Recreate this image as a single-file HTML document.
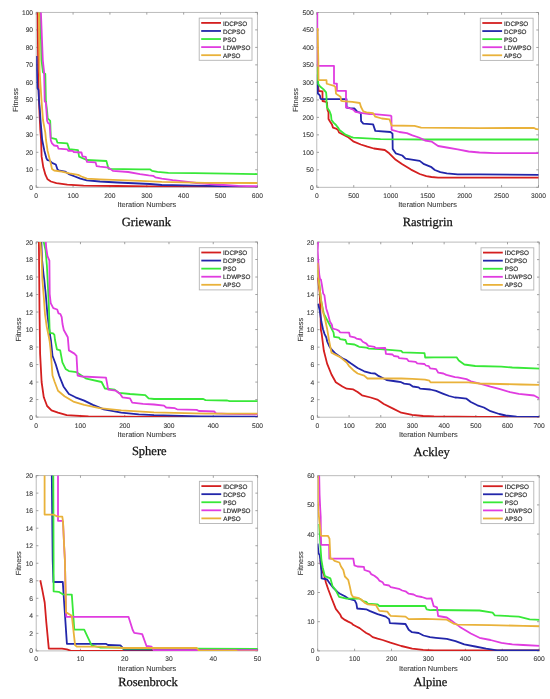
<!DOCTYPE html>
<html><head><meta charset="utf-8"><title>Convergence curves</title>
<style>
html,body{margin:0;padding:0;background:#fff;}
body{width:550px;height:699px;overflow:hidden;}
svg{display:block;will-change:transform;filter:blur(0.3px);}
text{font-family:"Liberation Sans",sans-serif;fill:#3a3a3a;text-rendering:geometricPrecision;}
.tl text{font-size:6.7px;stroke:#3a3a3a;stroke-width:0.1px;}
.al{font-size:7.4px;stroke:#3a3a3a;stroke-width:0.08px;}
.lg{font-size:6.3px;fill:#2a2a2a;stroke:#2a2a2a;stroke-width:0.16px;}
.ti{font-family:"Liberation Serif",serif;font-size:12.5px;fill:#111;stroke:#111;stroke-width:0.25px;}
</style></head>
<body>
<svg width="550" height="699" viewBox="0 0 550 699">
<rect width="550" height="699" fill="#fff"/>
<clipPath id="c0"><rect x="36.2" y="12.4" width="221.2" height="174.9"/></clipPath>
<rect x="36.2" y="12.4" width="221.2" height="174.9" fill="none" stroke="#b4b4b4" stroke-width="0.9"/>
<path d="M36.2 187.3v-2.2M36.2 12.4v2.2M73.07 187.3v-2.2M73.07 12.4v2.2M109.93 187.3v-2.2M109.93 12.4v2.2M146.8 187.3v-2.2M146.8 12.4v2.2M183.67 187.3v-2.2M183.67 12.4v2.2M220.53 187.3v-2.2M220.53 12.4v2.2M257.4 187.3v-2.2M257.4 12.4v2.2M36.2 187.3h2.2M257.4 187.3h-2.2M36.2 169.81h2.2M257.4 169.81h-2.2M36.2 152.32h2.2M257.4 152.32h-2.2M36.2 134.83h2.2M257.4 134.83h-2.2M36.2 117.34h2.2M257.4 117.34h-2.2M36.2 99.85h2.2M257.4 99.85h-2.2M36.2 82.36h2.2M257.4 82.36h-2.2M36.2 64.87h2.2M257.4 64.87h-2.2M36.2 47.38h2.2M257.4 47.38h-2.2M36.2 29.89h2.2M257.4 29.89h-2.2M36.2 12.4h2.2M257.4 12.4h-2.2" stroke="#8a8a8a" stroke-width="0.8" fill="none"/>
<g clip-path="url(#c0)" fill="none" stroke-width="1.8" stroke-linejoin="round" stroke-linecap="butt">
<polyline stroke="#d41f1f" points="37.2,0 37.6,12.4 38.2,70 38.9,100 40.3,130 41.1,140 41.6,156.4 43.3,167.3 45.5,174.9 47.6,179.3 50.9,181.5 56.4,183.1 67.3,184.7 83.6,185.6 100,185.8 117,186 150,186.4 200,186.7 259.4,186.8"/>
<polyline stroke="#2226aa" points="36.5,56 37.4,88 38.5,90 39,100 40,112 40.5,120 42.2,140 44.4,150.9 46.5,158.5 47.6,160.2 49.8,160.7 52,162.9 55.8,164.5 57.5,169.5 58.5,170.5 65.1,171.6 69.5,174.4 74.9,176.5 80.4,178.7 86.9,180.4 100,181.5 117.3,182.5 150,184 161.8,185 194.5,185.6 227.3,186.3 259.4,187"/>
<polyline stroke="#38e838" points="39.6,0 39.8,12.4 41,40 41.5,60 42.9,72.2 45.3,74 45.9,101.4 47.1,111.1 47.7,118.4 50.2,120.8 50.8,137.9 56.2,139.1 57.5,142.7 67.3,143.4 69.3,149.1 78,150.2 79.1,156.7 86.7,160 106.4,161 108.5,168.8 140,169.3 149.8,169.3 152,170.8 157.5,171.9 168.4,172.8 194.5,173.2 227.3,173.6 259.4,174.1"/>
<polyline stroke="#e03ce0" points="40.7,0 40.9,12.4 42,40 42.8,60 44.1,72.2 44.7,101.4 45.9,102.6 47.1,120.8 48.3,123.3 49.6,123.9 50.8,140.3 52,143.3 54.2,145.5 57.5,146 58.5,148.7 67.3,149.3 68.4,150.9 72.7,150.9 73.8,152 81.5,152.5 82.5,156.4 85.8,156.9 86.9,161.8 95.6,162.4 96.7,166.2 100,166.7 108.5,167.6 112.9,170.9 128.2,172 140,174.1 148.7,175.4 153.1,175.8 155.3,177.3 161.8,178.7 172.7,180.2 185.8,181.7 196.7,183 216.4,184.5 238.2,185.9 259.4,186.3"/>
<polyline stroke="#e9b23a" points="38.7,0 38.9,12.4 39.6,70 40.5,85 41.5,100 43,120 45.3,132.7 46,140 47.6,150.9 49.8,159.6 50.9,164 52,168.9 54.2,170.5 61.8,171.6 69.5,173.3 78.2,174.9 81.5,176.5 86.9,178.7 100,179.3 106.4,179.6 140,180.8 161.8,181.9 183.6,182.4 205.5,182.8 259.4,183"/>
</g>
<g class="tl"><text x="36.2" y="197.7" text-anchor="middle">0</text><text x="73.07" y="197.7" text-anchor="middle">100</text><text x="109.93" y="197.7" text-anchor="middle">200</text><text x="146.8" y="197.7" text-anchor="middle">300</text><text x="183.67" y="197.7" text-anchor="middle">400</text><text x="220.53" y="197.7" text-anchor="middle">500</text><text x="257.4" y="197.7" text-anchor="middle">600</text><text x="33.1" y="189.8" text-anchor="end">0</text><text x="33.1" y="172.31" text-anchor="end">10</text><text x="33.1" y="154.82" text-anchor="end">20</text><text x="33.1" y="137.33" text-anchor="end">30</text><text x="33.1" y="119.84" text-anchor="end">40</text><text x="33.1" y="102.35" text-anchor="end">50</text><text x="33.1" y="84.86" text-anchor="end">60</text><text x="33.1" y="67.37" text-anchor="end">70</text><text x="33.1" y="49.88" text-anchor="end">80</text><text x="33.1" y="32.39" text-anchor="end">90</text><text x="33.1" y="14.9" text-anchor="end">100</text></g>
<text class="al" x="146.8" y="207.4" text-anchor="middle">Iteration Numbers</text>
<text class="al" transform="translate(17.75,99.85) rotate(-90)" text-anchor="middle">Fitness</text>
<text class="ti" x="146.4" y="225.7" text-anchor="middle">Griewank</text>
<rect x="199.2" y="18.1" width="52.8" height="42.2" fill="#fff" stroke="#b4b4b4" stroke-width="0.9"/>
<path d="M201.2 22.9h19.8" stroke="#d41f1f" stroke-width="1.8"/>
<text class="lg" x="223" y="25.5">IDCPSO</text>
<path d="M201.2 30.97h19.8" stroke="#2226aa" stroke-width="1.8"/>
<text class="lg" x="223" y="33.57">DCPSO</text>
<path d="M201.2 39.04h19.8" stroke="#38e838" stroke-width="1.8"/>
<text class="lg" x="223" y="41.64">PSO</text>
<path d="M201.2 47.11h19.8" stroke="#e03ce0" stroke-width="1.8"/>
<text class="lg" x="223" y="49.71">LDWPSO</text>
<path d="M201.2 55.18h19.8" stroke="#e9b23a" stroke-width="1.8"/>
<text class="lg" x="223" y="57.78">APSO</text>
<clipPath id="c1"><rect x="316.8" y="12.5" width="221.7" height="174.8"/></clipPath>
<rect x="316.8" y="12.5" width="221.7" height="174.8" fill="none" stroke="#b4b4b4" stroke-width="0.9"/>
<path d="M316.8 187.3v-2.2M316.8 12.5v2.2M353.75 187.3v-2.2M353.75 12.5v2.2M390.7 187.3v-2.2M390.7 12.5v2.2M427.65 187.3v-2.2M427.65 12.5v2.2M464.6 187.3v-2.2M464.6 12.5v2.2M501.55 187.3v-2.2M501.55 12.5v2.2M538.5 187.3v-2.2M538.5 12.5v2.2M316.8 187.3h2.2M538.5 187.3h-2.2M316.8 169.82h2.2M538.5 169.82h-2.2M316.8 152.34h2.2M538.5 152.34h-2.2M316.8 134.86h2.2M538.5 134.86h-2.2M316.8 117.38h2.2M538.5 117.38h-2.2M316.8 99.9h2.2M538.5 99.9h-2.2M316.8 82.42h2.2M538.5 82.42h-2.2M316.8 64.94h2.2M538.5 64.94h-2.2M316.8 47.46h2.2M538.5 47.46h-2.2M316.8 29.98h2.2M538.5 29.98h-2.2M316.8 12.5h2.2M538.5 12.5h-2.2" stroke="#8a8a8a" stroke-width="0.8" fill="none"/>
<g clip-path="url(#c1)" fill="none" stroke-width="1.8" stroke-linejoin="round" stroke-linecap="butt">
<polyline stroke="#d41f1f" points="317.8,70 318.3,88 318.8,91 322.5,91.3 322.5,101 325,101.5 327,102.5 327.5,110 328.5,112.5 328.5,119 330,121.5 332,124.6 333,127.6 336,128.6 338,130 339,132.5 347.7,136.9 353.2,141.3 360.8,144.5 367.4,146.7 373.9,148.5 384.8,150 389.2,153.3 395.7,159.8 402.3,164.2 411,169.6 419.7,174 426.3,176.2 431.5,177 438.1,177.6 540.5,177.6"/>
<polyline stroke="#2226aa" points="317.5,74.5 317.5,82.7 317.9,93.6 319.1,94.5 320.1,96.1 320.4,98.3 321.2,99.1 346.5,99.1 346.6,107.5 350,108.2 354.3,108.5 357.5,111.8 360.8,112.9 361.1,121.1 363.3,123.7 373.1,124.4 375.3,130.9 390.5,132 392.5,133.6 392.7,148.9 395.7,153.3 402.3,155.5 405.5,158.7 419.7,160.9 424.1,164.2 431.5,167.2 434.8,170 440.3,172.2 446.8,173.3 457.7,174.4 479.5,174.4 540.5,174.8"/>
<polyline stroke="#38e838" points="317.6,64 317.9,76 318.2,84 320.1,86.5 323.3,89.1 326.1,92.3 326.5,96.7 326.5,101.5 327,107.5 329.5,111 331,115 331.5,120 333.5,122.6 336,125 338,127.6 339.5,130 345.5,134.7 351,136.9 353.2,137.6 380.5,139.1 425,139.5 540.5,139.5"/>
<polyline stroke="#e03ce0" points="317.3,0 317.3,65.9 334,65.9 334,83.6 336.9,83.6 336.9,90.8 346,90.8 346,107.5 347.7,107.5 350,108.5 353.2,109.6 355.4,111.8 360.8,112.9 369.5,114 374.2,114.1 390.5,115.6 391.4,116.2 391.6,129.8 399.3,132 406.9,133.1 412.4,135.3 418.9,137.5 423.3,139.6 425,140.5 431.5,141.6 434.8,143.8 438.1,146 446.8,147.5 457.7,149.3 468.6,151.5 479.5,152.5 494.8,153.2 540.5,153.2"/>
<polyline stroke="#e9b23a" points="317.6,28 318.3,60 318.5,80.2 326.5,80.2 326.7,83.7 327.7,84 334.1,85.9 335.4,87.2 336,93.6 337.9,95.1 340.5,96.7 341.1,100.6 342.4,101.2 352.2,101.9 359.8,103 361,107 363.3,111.3 366.5,112.4 373.1,113.2 375.3,116.7 381.8,118.5 389.5,119.3 391.6,125.5 414.5,125.9 421.1,127.6 480,128.1 534.1,127.9 536.3,129.2 540.5,129.6"/>
</g>
<g class="tl"><text x="316.8" y="197.7" text-anchor="middle">0</text><text x="353.75" y="197.7" text-anchor="middle">500</text><text x="390.7" y="197.7" text-anchor="middle">1000</text><text x="427.65" y="197.7" text-anchor="middle">1500</text><text x="464.6" y="197.7" text-anchor="middle">2000</text><text x="501.55" y="197.7" text-anchor="middle">2500</text><text x="538.5" y="197.7" text-anchor="middle">3000</text><text x="313.7" y="189.8" text-anchor="end">0</text><text x="313.7" y="172.32" text-anchor="end">50</text><text x="313.7" y="154.84" text-anchor="end">100</text><text x="313.7" y="137.36" text-anchor="end">150</text><text x="313.7" y="119.88" text-anchor="end">200</text><text x="313.7" y="102.4" text-anchor="end">250</text><text x="313.7" y="84.92" text-anchor="end">300</text><text x="313.7" y="67.44" text-anchor="end">350</text><text x="313.7" y="49.96" text-anchor="end">400</text><text x="313.7" y="32.48" text-anchor="end">450</text><text x="313.7" y="15" text-anchor="end">500</text></g>
<text class="al" x="427.65" y="207.4" text-anchor="middle">Iteration Numbers</text>
<text class="al" transform="translate(298.35,99.9) rotate(-90)" text-anchor="middle">Fitness</text>
<text class="ti" x="427.7" y="226.3" text-anchor="middle">Rastrigrin</text>
<rect x="480.3" y="18.2" width="52.8" height="42.2" fill="#fff" stroke="#b4b4b4" stroke-width="0.9"/>
<path d="M482.3 23h19.8" stroke="#d41f1f" stroke-width="1.8"/>
<text class="lg" x="504.1" y="25.6">IDCPSO</text>
<path d="M482.3 31.07h19.8" stroke="#2226aa" stroke-width="1.8"/>
<text class="lg" x="504.1" y="33.67">DCPSO</text>
<path d="M482.3 39.14h19.8" stroke="#38e838" stroke-width="1.8"/>
<text class="lg" x="504.1" y="41.74">PSO</text>
<path d="M482.3 47.21h19.8" stroke="#e03ce0" stroke-width="1.8"/>
<text class="lg" x="504.1" y="49.81">LDWPSO</text>
<path d="M482.3 55.28h19.8" stroke="#e9b23a" stroke-width="1.8"/>
<text class="lg" x="504.1" y="57.88">APSO</text>
<clipPath id="c2"><rect x="36.2" y="242" width="221.3" height="175.1"/></clipPath>
<rect x="36.2" y="242" width="221.3" height="175.1" fill="none" stroke="#b4b4b4" stroke-width="0.9"/>
<path d="M36.2 417.1v-2.2M36.2 242v2.2M80.46 417.1v-2.2M80.46 242v2.2M124.72 417.1v-2.2M124.72 242v2.2M168.98 417.1v-2.2M168.98 242v2.2M213.24 417.1v-2.2M213.24 242v2.2M257.5 417.1v-2.2M257.5 242v2.2M36.2 417.1h2.2M257.5 417.1h-2.2M36.2 399.59h2.2M257.5 399.59h-2.2M36.2 382.08h2.2M257.5 382.08h-2.2M36.2 364.57h2.2M257.5 364.57h-2.2M36.2 347.06h2.2M257.5 347.06h-2.2M36.2 329.55h2.2M257.5 329.55h-2.2M36.2 312.04h2.2M257.5 312.04h-2.2M36.2 294.53h2.2M257.5 294.53h-2.2M36.2 277.02h2.2M257.5 277.02h-2.2M36.2 259.51h2.2M257.5 259.51h-2.2M36.2 242h2.2M257.5 242h-2.2" stroke="#8a8a8a" stroke-width="0.8" fill="none"/>
<g clip-path="url(#c2)" fill="none" stroke-width="1.8" stroke-linejoin="round" stroke-linecap="butt">
<polyline stroke="#d41f1f" points="38.9,230 38.9,241.9 39.5,310 40.1,353.6 41.6,382 43.8,397.3 47.1,406 51.5,410.4 58,412.6 66.7,415.2 88.5,416.5 154,416.9 259.5,416.9"/>
<polyline stroke="#2226aa" points="41.3,230 41.3,241.9 42,259.3 43.5,274 44.3,280 45.9,296 47.4,314.3 48.7,325 50,335 51,341 52.5,355.8 55.8,364.5 59.1,375.5 63.5,386.4 68.9,394 75.5,397.3 84.2,400.6 92.9,404.9 103.8,409.3 121.3,412.6 138.7,414.3 154,415.2 200,416.3 259.5,416.8"/>
<polyline stroke="#38e838" points="43.7,230 43.7,241.9 45.6,250.3 46.9,265.7 48.2,291.5 48.8,304.4 49.3,320 49.7,332.8 53.1,333.4 54.4,334.8 55,340 56.9,349.3 60.2,350.4 62.4,362.4 65.6,368.9 68.9,371.1 76.5,372.2 86.4,378.7 101.6,382 104.9,388.5 114.7,389.6 119.1,392.9 130,394 145.3,395.1 148.6,398.4 154,399 203.3,399 205.5,400.1 227.3,400.5 229.5,401.2 259.5,401.2"/>
<polyline stroke="#e03ce0" points="45.8,230 45.8,241.9 46.2,247.7 47.5,256.1 49.4,260.6 49.7,294 50.7,303.1 53.3,308.2 57.2,309.5 58.5,313.4 60.4,314 61.7,317.2 62.5,324 63.8,330 67.8,337.3 68.9,350.4 74.4,353.6 76.5,355.8 77.6,375.5 82,376.5 106,377.6 108.2,389.6 115.8,390.7 120.2,394 122.4,397.3 130,398.4 132.2,402.7 143.1,403.8 154,404.5 164,405.6 166.2,407.5 174.9,408.2 177.1,409.3 196.7,409.9 198.9,411 214.2,411.5 216,413.3 227.3,413.8 259.5,414.5"/>
<polyline stroke="#e9b23a" points="40.4,230 40.4,241.9 41.7,259.3 42.4,280 43.8,297 45,314.3 46.8,327.1 48.6,335.7 49.6,341 50.6,350 52.5,375.5 54.7,382 58,390.7 64.5,396.2 73.3,401.6 84.2,404.9 99.5,408.2 121.3,410.4 154,412.3 205.5,413.6 259.5,413.6"/>
</g>
<g class="tl"><text x="36.2" y="427.5" text-anchor="middle">0</text><text x="80.46" y="427.5" text-anchor="middle">100</text><text x="124.72" y="427.5" text-anchor="middle">200</text><text x="168.98" y="427.5" text-anchor="middle">300</text><text x="213.24" y="427.5" text-anchor="middle">400</text><text x="257.5" y="427.5" text-anchor="middle">500</text><text x="33.1" y="419.6" text-anchor="end">0</text><text x="33.1" y="402.09" text-anchor="end">2</text><text x="33.1" y="384.58" text-anchor="end">4</text><text x="33.1" y="367.07" text-anchor="end">6</text><text x="33.1" y="349.56" text-anchor="end">8</text><text x="33.1" y="332.05" text-anchor="end">10</text><text x="33.1" y="314.54" text-anchor="end">12</text><text x="33.1" y="297.03" text-anchor="end">14</text><text x="33.1" y="279.52" text-anchor="end">16</text><text x="33.1" y="262.01" text-anchor="end">18</text><text x="33.1" y="244.5" text-anchor="end">20</text></g>
<text class="al" x="146.85" y="437.2" text-anchor="middle">Iteration Numbers</text>
<text class="al" transform="translate(21.4,329.55) rotate(-90)" text-anchor="middle">Fitness</text>
<text class="ti" x="149.25" y="455.3" text-anchor="middle">Sphere</text>
<rect x="199.3" y="247.7" width="52.8" height="42.2" fill="#fff" stroke="#b4b4b4" stroke-width="0.9"/>
<path d="M201.3 252.5h19.8" stroke="#d41f1f" stroke-width="1.8"/>
<text class="lg" x="223.1" y="255.1">IDCPSO</text>
<path d="M201.3 260.57h19.8" stroke="#2226aa" stroke-width="1.8"/>
<text class="lg" x="223.1" y="263.17">DCPSO</text>
<path d="M201.3 268.64h19.8" stroke="#38e838" stroke-width="1.8"/>
<text class="lg" x="223.1" y="271.24">PSO</text>
<path d="M201.3 276.71h19.8" stroke="#e03ce0" stroke-width="1.8"/>
<text class="lg" x="223.1" y="279.31">LDWPSO</text>
<path d="M201.3 284.78h19.8" stroke="#e9b23a" stroke-width="1.8"/>
<text class="lg" x="223.1" y="287.38">APSO</text>
<clipPath id="c3"><rect x="317.4" y="242.1" width="221.8" height="175.1"/></clipPath>
<rect x="317.4" y="242.1" width="221.8" height="175.1" fill="none" stroke="#b4b4b4" stroke-width="0.9"/>
<path d="M317.4 417.2v-2.2M317.4 242.1v2.2M349.09 417.2v-2.2M349.09 242.1v2.2M380.77 417.2v-2.2M380.77 242.1v2.2M412.46 417.2v-2.2M412.46 242.1v2.2M444.14 417.2v-2.2M444.14 242.1v2.2M475.83 417.2v-2.2M475.83 242.1v2.2M507.51 417.2v-2.2M507.51 242.1v2.2M539.2 417.2v-2.2M539.2 242.1v2.2M317.4 417.2h2.2M539.2 417.2h-2.2M317.4 399.69h2.2M539.2 399.69h-2.2M317.4 382.18h2.2M539.2 382.18h-2.2M317.4 364.67h2.2M539.2 364.67h-2.2M317.4 347.16h2.2M539.2 347.16h-2.2M317.4 329.65h2.2M539.2 329.65h-2.2M317.4 312.14h2.2M539.2 312.14h-2.2M317.4 294.63h2.2M539.2 294.63h-2.2M317.4 277.12h2.2M539.2 277.12h-2.2M317.4 259.61h2.2M539.2 259.61h-2.2M317.4 242.1h2.2M539.2 242.1h-2.2" stroke="#8a8a8a" stroke-width="0.8" fill="none"/>
<g clip-path="url(#c3)" fill="none" stroke-width="1.8" stroke-linejoin="round" stroke-linecap="butt">
<polyline stroke="#d41f1f" points="317.6,277.6 319.7,292.4 320.5,313.6 320.9,330 321.6,333.1 323.8,350.5 327.1,363.6 331.5,374.5 335.8,382.2 342.4,386.5 346.7,388.7 353.3,389.4 357.6,392 362,395.3 370.7,397.5 377.3,399.6 383.8,404 392.6,408.4 401.3,412.7 412.2,414.9 423.1,416 434,416.4 480,416.8 541.2,417.1"/>
<polyline stroke="#2226aa" points="318.1,303.8 319.7,310.4 321.4,321.8 323,329.2 324.6,334.1 326.3,337.5 327.2,341.5 329.3,346.2 331.5,349.5 335.8,353.8 342.4,358.2 346.7,360.4 351.1,363.6 357.6,368 364.2,371.3 370.7,373.2 375,373.5 377.9,375.6 383.7,378.5 386.6,380 396.8,381.5 401.2,382.2 404.1,383.6 409.9,384.4 412.8,386.5 418.6,387.3 420.1,388.7 430.3,389.5 436.1,390.9 443.4,393.8 449.2,396 455,397.5 457.7,397.6 466.5,398.7 470.8,402 477.4,405.3 483.9,407.5 490.5,411.2 499.2,414 505.7,415.5 516.6,416.6 541.2,416.8"/>
<polyline stroke="#38e838" points="318.2,270 318.9,279.3 321,300 323.8,313.6 326.3,318.5 327.1,320 330,325.5 331.8,329.1 333.6,332.7 334.1,336.8 339.1,337.7 340,339.1 345.5,340 346.8,343.6 354.5,344.5 357.3,345.9 359.1,346.8 366.4,347.7 369.1,348.6 380,349.1 401.2,350.9 402.6,352.4 424.5,353.1 425.2,357.5 434,357.4 456.6,357.3 458.8,360.5 464.3,364.5 475.2,366 501.4,366.7 512.3,367.5 541.2,368.6"/>
<polyline stroke="#e03ce0" points="318.1,242 317.7,250.6 318.4,263.5 319.3,274.6 320,279 321,279.8 321.9,284.9 323.2,293.5 324.4,295.2 325.3,302 326.3,308.7 327.9,313.6 330,321.8 331.8,324.5 332.7,328.6 336.4,329.5 339.1,330.9 340,332.3 349.1,332.7 350,336.4 354.5,337.3 356.4,338.6 360.9,339.5 362.7,341.8 366.4,343.6 368.2,345.9 374.5,346.8 375.5,348.2 385.2,348 385.9,353.8 392.5,354.5 393.9,356 398.3,356.7 399,358.2 407,358.9 408.5,361.1 415.7,361.8 417.2,363.3 424.5,364 425.9,365.5 428.8,366.2 430.3,368.4 436.1,369.1 438.3,372.7 443.4,373.5 446.3,374.9 455,377.1 457.7,377.3 466.5,379.1 470.8,381.3 481.7,384.1 490.5,386.7 499.2,388.9 510.1,392.2 518.8,393.9 534.1,395.5 541.2,399.4"/>
<polyline stroke="#e9b23a" points="317.6,262.9 318.1,276 319.7,289.1 321.4,302.2 323,312 324.9,318.5 327.1,328.7 329.3,341.8 331.5,352.7 335.8,354.9 340.2,357.1 346.7,362.5 348.9,365.8 353.3,370.2 357.6,373.5 364.2,375.6 367.5,378.5 379.5,378.5 401.3,378.5 412.2,378.9 425,379.7 429.4,380.6 430.5,382.4 468.6,382.4 479.5,383.5 521,384.5 541.2,385"/>
</g>
<g class="tl"><text x="317.4" y="427.6" text-anchor="middle">0</text><text x="349.09" y="427.6" text-anchor="middle">100</text><text x="380.77" y="427.6" text-anchor="middle">200</text><text x="412.46" y="427.6" text-anchor="middle">300</text><text x="444.14" y="427.6" text-anchor="middle">400</text><text x="475.83" y="427.6" text-anchor="middle">500</text><text x="507.51" y="427.6" text-anchor="middle">600</text><text x="539.2" y="427.6" text-anchor="middle">700</text><text x="314.3" y="419.7" text-anchor="end">0</text><text x="314.3" y="402.19" text-anchor="end">2</text><text x="314.3" y="384.68" text-anchor="end">4</text><text x="314.3" y="367.17" text-anchor="end">6</text><text x="314.3" y="349.66" text-anchor="end">8</text><text x="314.3" y="332.15" text-anchor="end">10</text><text x="314.3" y="314.64" text-anchor="end">12</text><text x="314.3" y="297.13" text-anchor="end">14</text><text x="314.3" y="279.62" text-anchor="end">16</text><text x="314.3" y="262.11" text-anchor="end">18</text><text x="314.3" y="244.6" text-anchor="end">20</text></g>
<text class="al" x="428.3" y="437.3" text-anchor="middle">Iteration Numbers</text>
<text class="al" transform="translate(302.6,329.65) rotate(-90)" text-anchor="middle">Fitness</text>
<text class="ti" x="431.65" y="455.7" text-anchor="middle">Ackley</text>
<rect x="481" y="247.8" width="52.8" height="42.2" fill="#fff" stroke="#b4b4b4" stroke-width="0.9"/>
<path d="M483 252.6h19.8" stroke="#d41f1f" stroke-width="1.8"/>
<text class="lg" x="504.8" y="255.2">IDCPSO</text>
<path d="M483 260.67h19.8" stroke="#2226aa" stroke-width="1.8"/>
<text class="lg" x="504.8" y="263.27">DCPSO</text>
<path d="M483 268.74h19.8" stroke="#38e838" stroke-width="1.8"/>
<text class="lg" x="504.8" y="271.34">PSO</text>
<path d="M483 276.81h19.8" stroke="#e03ce0" stroke-width="1.8"/>
<text class="lg" x="504.8" y="279.41">LDWPSO</text>
<path d="M483 284.88h19.8" stroke="#e9b23a" stroke-width="1.8"/>
<text class="lg" x="504.8" y="287.48">APSO</text>
<clipPath id="c4"><rect x="36.2" y="475.6" width="221.4" height="175.3"/></clipPath>
<rect x="36.2" y="475.6" width="221.4" height="175.3" fill="none" stroke="#b4b4b4" stroke-width="0.9"/>
<path d="M36.2 650.9v-2.2M36.2 475.6v2.2M80.48 650.9v-2.2M80.48 475.6v2.2M124.76 650.9v-2.2M124.76 475.6v2.2M169.04 650.9v-2.2M169.04 475.6v2.2M213.32 650.9v-2.2M213.32 475.6v2.2M257.6 650.9v-2.2M257.6 475.6v2.2M36.2 650.9h2.2M257.6 650.9h-2.2M36.2 633.37h2.2M257.6 633.37h-2.2M36.2 615.84h2.2M257.6 615.84h-2.2M36.2 598.31h2.2M257.6 598.31h-2.2M36.2 580.78h2.2M257.6 580.78h-2.2M36.2 563.25h2.2M257.6 563.25h-2.2M36.2 545.72h2.2M257.6 545.72h-2.2M36.2 528.19h2.2M257.6 528.19h-2.2M36.2 510.66h2.2M257.6 510.66h-2.2M36.2 493.13h2.2M257.6 493.13h-2.2M36.2 475.6h2.2M257.6 475.6h-2.2" stroke="#8a8a8a" stroke-width="0.8" fill="none"/>
<g clip-path="url(#c4)" fill="none" stroke-width="1.8" stroke-linejoin="round" stroke-linecap="butt">
<polyline stroke="#d41f1f" points="40.3,580.3 42.2,589.4 44.7,602.5 46.3,622.3 48.8,648.6 62,648.6 66.9,649.4 71.8,651 259.6,651"/>
<polyline stroke="#2226aa" points="51.8,470 51.8,475.8 52.7,560 53.4,582 62.8,582 63.6,594.3 66.9,643.8 105.8,643.8 108,645 120.4,645.3 122.5,647.7 124,649.6 153.8,649.6 259.6,649.6"/>
<polyline stroke="#38e838" points="53.3,470 53.3,475.8 53.6,560 53.6,591.3 58.7,591.8 62.8,594.3 71.8,594.6 74.3,629.7 84.2,629.7 91.6,645.3 100,647.5 121,647.7 123.3,648.6 194.5,648.6 259.6,648.8"/>
<polyline stroke="#e03ce0" points="58,470 58,475.8 58,520.8 61.7,520.8 63,521.5 64.2,547.2 64.9,560 66,612 66.3,616.8 128.5,616.8 132.7,630 134.2,632.9 142.2,634.1 146.5,646 151.6,646.7 153.8,650.2 259.6,650.2"/>
<polyline stroke="#e9b23a" points="44.6,470 44.6,514.5 53.3,514.7 57.2,516.3 62.3,516.6 63,521.5 64.2,547.2 64.9,560 66.1,612.4 71.8,615.7 75.1,645.3 76.8,646.6 100,646.7 123.3,648 196.6,647.9 199,650.6 236,650.6 238,651.5 259.6,651.5"/>
</g>
<g class="tl"><text x="36.2" y="661.3" text-anchor="middle">0</text><text x="80.48" y="661.3" text-anchor="middle">10</text><text x="124.76" y="661.3" text-anchor="middle">20</text><text x="169.04" y="661.3" text-anchor="middle">30</text><text x="213.32" y="661.3" text-anchor="middle">40</text><text x="257.6" y="661.3" text-anchor="middle">50</text><text x="33.1" y="653.4" text-anchor="end">0</text><text x="33.1" y="635.87" text-anchor="end">2</text><text x="33.1" y="618.34" text-anchor="end">4</text><text x="33.1" y="600.81" text-anchor="end">6</text><text x="33.1" y="583.28" text-anchor="end">8</text><text x="33.1" y="565.75" text-anchor="end">10</text><text x="33.1" y="548.22" text-anchor="end">12</text><text x="33.1" y="530.69" text-anchor="end">14</text><text x="33.1" y="513.16" text-anchor="end">16</text><text x="33.1" y="495.63" text-anchor="end">18</text><text x="33.1" y="478.1" text-anchor="end">20</text></g>
<text class="al" x="146.9" y="671" text-anchor="middle">Iteration Numbers</text>
<text class="al" transform="translate(21.4,563.25) rotate(-90)" text-anchor="middle">Fitness</text>
<text class="ti" x="148" y="686" text-anchor="middle">Rosenbrock</text>
<rect x="199.4" y="481.3" width="52.8" height="42.2" fill="#fff" stroke="#b4b4b4" stroke-width="0.9"/>
<path d="M201.4 486.1h19.8" stroke="#d41f1f" stroke-width="1.8"/>
<text class="lg" x="223.2" y="488.7">IDCPSO</text>
<path d="M201.4 494.17h19.8" stroke="#2226aa" stroke-width="1.8"/>
<text class="lg" x="223.2" y="496.77">DCPSO</text>
<path d="M201.4 502.24h19.8" stroke="#38e838" stroke-width="1.8"/>
<text class="lg" x="223.2" y="504.84">PSO</text>
<path d="M201.4 510.31h19.8" stroke="#e03ce0" stroke-width="1.8"/>
<text class="lg" x="223.2" y="512.91">LDWPSO</text>
<path d="M201.4 518.38h19.8" stroke="#e9b23a" stroke-width="1.8"/>
<text class="lg" x="223.2" y="520.98">APSO</text>
<clipPath id="c5"><rect x="317.7" y="475.7" width="221.5" height="175.2"/></clipPath>
<rect x="317.7" y="475.7" width="221.5" height="175.2" fill="none" stroke="#b4b4b4" stroke-width="0.9"/>
<path d="M317.7 650.9v-2.2M317.7 475.7v2.2M354.62 650.9v-2.2M354.62 475.7v2.2M391.53 650.9v-2.2M391.53 475.7v2.2M428.45 650.9v-2.2M428.45 475.7v2.2M465.37 650.9v-2.2M465.37 475.7v2.2M502.28 650.9v-2.2M502.28 475.7v2.2M539.2 650.9v-2.2M539.2 475.7v2.2M317.7 650.9h2.2M539.2 650.9h-2.2M317.7 621.7h2.2M539.2 621.7h-2.2M317.7 592.5h2.2M539.2 592.5h-2.2M317.7 563.3h2.2M539.2 563.3h-2.2M317.7 534.1h2.2M539.2 534.1h-2.2M317.7 504.9h2.2M539.2 504.9h-2.2M317.7 475.7h2.2M539.2 475.7h-2.2" stroke="#8a8a8a" stroke-width="0.8" fill="none"/>
<g clip-path="url(#c5)" fill="none" stroke-width="1.8" stroke-linejoin="round" stroke-linecap="butt">
<polyline stroke="#d41f1f" points="320.5,560 320.8,564.9 321.6,570 323.8,574 326,582.7 328.2,589.3 331.5,598 335.8,608.9 340,614.2 341.6,617.5 344.9,619.9 348.2,621.6 351.5,623.2 353.1,624.8 356.4,626.5 359.6,628.1 362.9,630.6 366.2,633 369.5,634.6 372.7,637.1 377.6,638.7 382.6,640 390.4,642.7 401.3,646 412.2,648.6 423.1,649.9 434,650.4 541.2,650.5"/>
<polyline stroke="#2226aa" points="317.6,543.6 318.6,553.5 319.7,555.1 320.5,561.6 321.4,570 321.6,578.4 327.1,579.5 329.3,582.7 333.6,588.2 338,592.5 340,593.7 344.9,596.2 348.2,598.6 354.7,600.3 356.4,603.6 357.2,608.5 366.2,609.3 369.5,610.9 377.6,614.2 385.8,616.6 389.1,619.1 389.9,623.2 405.5,624 408.7,629.7 412,632.2 418.6,633 423.5,635.5 430,637.1 435.9,637.8 446.8,638.9 455.5,641.1 464.3,644.4 475.2,646.5 486.1,648.7 497,650.3 541.2,650.5"/>
<polyline stroke="#38e838" points="319.2,524 319.9,535.5 320.5,546.9 321.4,560 322.7,567.5 324.9,576.2 330.4,578.4 332.5,586 335.8,590.4 339.1,596.9 346.5,598.6 359.6,598.6 362.9,601.1 366.2,601.9 367.8,603.6 377.6,604.4 379.3,606 425.1,606 426.7,609.3 430,610.1 434,610 479.5,610.5 492.6,612.7 494.8,615.3 518.8,616.7 529.7,619.3 541.2,620"/>
<polyline stroke="#e03ce0" points="319.2,475.8 319.6,495 320.2,508 320.7,517 320.9,535.5 321.2,544.8 329.1,544.8 329.3,558.7 353.3,558.7 354.4,565.3 357.4,566.5 363.9,566.9 364.5,570 369.5,571.6 371.1,574.1 374.4,575.7 377.6,578.2 379.3,580.6 382.6,582.3 384.2,584.7 389.1,585.5 390.7,587.2 398.9,588.8 402.2,590.5 405.5,591.3 408.7,593.7 413.6,594.5 416.9,596.2 421.8,597 426.7,598.6 431.5,598.5 433.7,606.2 437,607.3 438.1,616 446.8,617.5 451.2,620.4 455.5,623.6 459.9,626.9 465.4,630.2 470.8,633.5 479.5,637.8 490.5,640 501.4,642.8 512.3,644.4 523.2,645 541.2,645.9"/>
<polyline stroke="#e9b23a" points="317.9,476 317.9,500 318.4,511.4 319.9,525.7 321,535.4 321.5,535.8 327.9,535.8 329.5,538.7 330.4,558.4 332.8,559.2 334.5,560.8 339.4,562.5 341,566.5 343.3,570 344.9,576.5 348.2,579.8 349.8,586.4 351.5,594.5 353.1,597 358,597.8 361.3,599.5 364.5,602.7 367.8,604.4 376,605.2 379.3,610.9 387.5,611.7 389.1,614.2 390.7,615.8 405.5,616.6 408.7,619.1 425,618.8 446.8,619.7 453.4,623.6 457.7,624.7 490.5,625.2 523.2,625.8 541.2,626.3"/>
</g>
<g class="tl"><text x="317.7" y="661.3" text-anchor="middle">0</text><text x="354.62" y="661.3" text-anchor="middle">100</text><text x="391.53" y="661.3" text-anchor="middle">200</text><text x="428.45" y="661.3" text-anchor="middle">300</text><text x="465.37" y="661.3" text-anchor="middle">400</text><text x="502.28" y="661.3" text-anchor="middle">500</text><text x="539.2" y="661.3" text-anchor="middle">600</text><text x="314.6" y="653.4" text-anchor="end">0</text><text x="314.6" y="624.2" text-anchor="end">10</text><text x="314.6" y="595" text-anchor="end">20</text><text x="314.6" y="565.8" text-anchor="end">30</text><text x="314.6" y="536.6" text-anchor="end">40</text><text x="314.6" y="507.4" text-anchor="end">50</text><text x="314.6" y="478.2" text-anchor="end">60</text></g>
<text class="al" x="428.45" y="671" text-anchor="middle">Iteration Numbers</text>
<text class="al" transform="translate(302.9,563.3) rotate(-90)" text-anchor="middle">Fitness</text>
<text class="ti" x="430.4" y="685.7" text-anchor="middle">Alpine</text>
<rect x="481" y="481.4" width="52.8" height="42.2" fill="#fff" stroke="#b4b4b4" stroke-width="0.9"/>
<path d="M483 486.2h19.8" stroke="#d41f1f" stroke-width="1.8"/>
<text class="lg" x="504.8" y="488.8">IDCPSO</text>
<path d="M483 494.27h19.8" stroke="#2226aa" stroke-width="1.8"/>
<text class="lg" x="504.8" y="496.87">DCPSO</text>
<path d="M483 502.34h19.8" stroke="#38e838" stroke-width="1.8"/>
<text class="lg" x="504.8" y="504.94">PSO</text>
<path d="M483 510.41h19.8" stroke="#e03ce0" stroke-width="1.8"/>
<text class="lg" x="504.8" y="513.01">LDWPSO</text>
<path d="M483 518.48h19.8" stroke="#e9b23a" stroke-width="1.8"/>
<text class="lg" x="504.8" y="521.08">APSO</text>
</svg>
</body></html>
